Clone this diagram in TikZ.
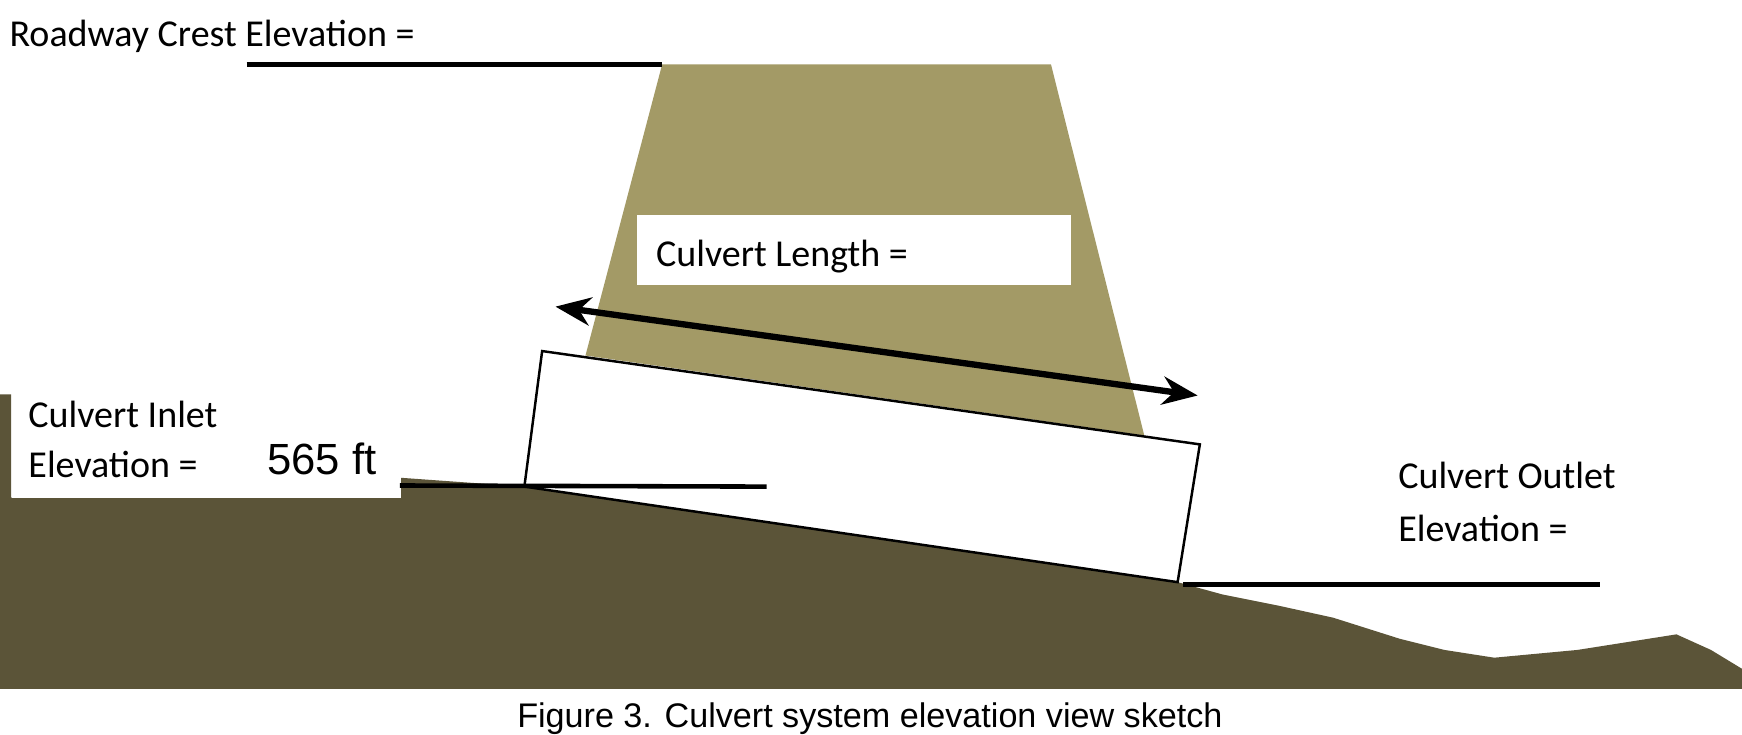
\documentclass[tikz,border=0pt]{standalone}
\usepackage{fontspec}
\setmainfont{Carlito}
\newfontfamily\arialf{Liberation Sans}
\usetikzlibrary{arrows.meta}
\definecolor{soil}{HTML}{5B5438}
\definecolor{fillc}{HTML}{A39A66}
\begin{document}
\begin{tikzpicture}[x=0.0111cm,y=-0.0111cm,
  lbl/.style={anchor=base west,inner sep=0,font=\fontsize{10.8pt}{13pt}\selectfont},
  lvl/.style={line width=1.3pt}]
\useasboundingbox (0,0) rectangle (1568,661);
\fill[white] (0,0) rectangle (1568,661);
% ground
\fill[soil] (0,355) -- (10,355) -- (10,448) -- (360,448) -- (360,430) -- (472,438)
  -- (1060,524) -- (1100,535) -- (1150,545) -- (1200,556) -- (1260,575) -- (1300,585)
  -- (1345,592) -- (1420,585) -- (1509,571) -- (1540,585) -- (1568,602) -- (1568,620) -- (0,620) -- cycle;
% embankment
\fill[fillc] (596,58) -- (946,58) -- (1030,392) -- (527,320) -- cycle;
% culvert
\draw[fill=white,line width=0.7pt] (488,316) coordinate (c1) -- (1080,400) coordinate (c2) -- (1060,524) coordinate (c3) -- (472,438) coordinate (c4) -- cycle;
% length box
\node[fill=white,minimum width=390*0.0111cm,minimum height=63*0.0111cm,inner sep=0,anchor=north west] (lenbox) at (573,193) {};
\node[lbl] (lenlbl) at (590,240) {Culvert Length =};
% arrow
\coordinate (a1) at (500,276);
\coordinate (a2) at (1078,356);
\draw[line width=1.8pt,{Stealth[length=10pt,width=8pt]}-{Stealth[length=10pt,width=8pt]}] (a1) -- (a2);
% crest
\coordinate (cr1) at (222,58); \coordinate (cr2) at (596,58);
\draw[lvl] (cr1) -- (cr2);
\node[lbl] (crest) at (8,42) {Roadway Crest Elevation =};
% inlet
\node[fill=white,minimum width=350*0.0111cm,minimum height=93*0.0111cm,inner sep=0,anchor=north west] (inbox) at (10,355) {};
\node[lbl] (in1) at (25,385) {Culvert Inlet};
\node[lbl] (in2) at (25,430) {Elevation =};
\node[anchor=base west,inner sep=0,font=\arialf\fontsize{12.4pt}{14pt}\selectfont] (inval) at (240,427) {565 ft};
\coordinate (il1) at (360,437); \coordinate (il2) at (690,438);
\draw[lvl] (il1) -- (il2);
% outlet
\coordinate (ol1) at (1065,526); \coordinate (ol2) at (1440,526);
\draw[lvl] (ol1) -- (ol2);
\node[lbl] (out1) at (1258,440) {Culvert Outlet};
\node[lbl] (out2) at (1258,487) {Elevation =};
% caption
\node[anchor=base,inner sep=0,font=\arialf\fontsize{9.7pt}{12pt}\selectfont] (cap) at (783,655) {Figure 3. Culvert system elevation view sketch};
\end{tikzpicture}
\end{document}
